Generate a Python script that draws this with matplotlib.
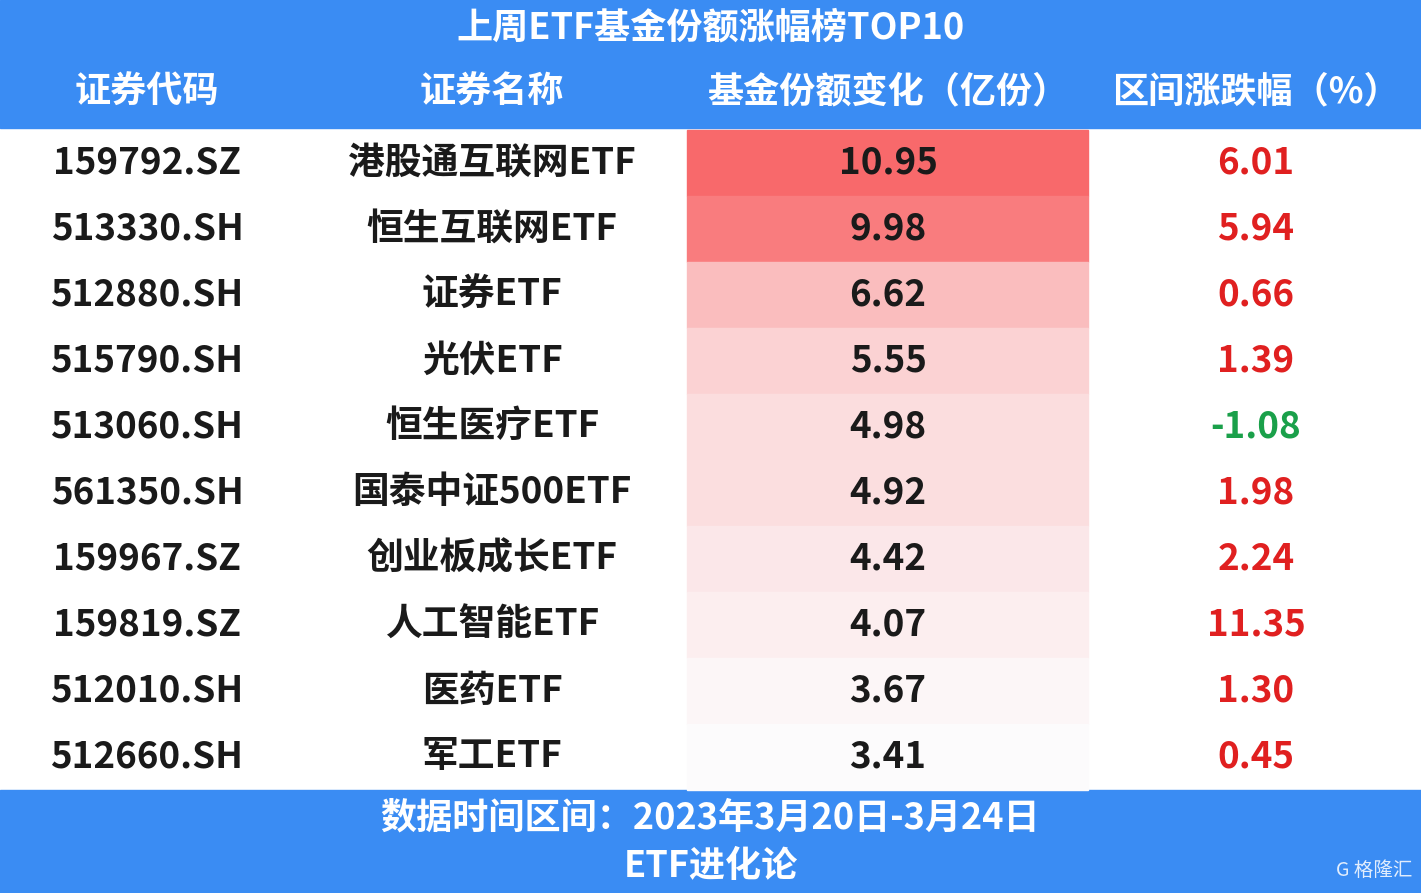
import matplotlib.pyplot as plt
import numpy as np
from matplotlib.colors import to_rgb

plt.rcParams['font.family'] = ['Noto Sans CJK SC', 'DejaVu Sans']

title = "上周ETF基金份额涨幅榜TOP10"
headers = ["证券代码", "证券名称", "基金份额变化（亿份）", "区间涨跌幅（%）"]
codes = ["159792.SZ", "513330.SH", "512880.SH", "515790.SH", "513060.SH",
         "561350.SH", "159967.SZ", "159819.SZ", "512010.SH", "512660.SH"]
names = ["港股通互联网ETF", "恒生互联网ETF", "证券ETF", "光伏ETF", "恒生医疗ETF",
         "国泰中证500ETF", "创业板成长ETF", "人工智能ETF", "医药ETF", "军工ETF"]
shares = [10.95, 9.98, 6.62, 5.55, 4.98, 4.92, 4.42, 4.07, 3.67, 3.41]
pct = [6.01, 5.94, 0.66, 1.39, -1.08, 1.98, 2.24, 11.35, 1.30, 0.45]
footer1 = "数据时间区间：2023年3月20日-3月24日"
footer2 = "ETF进化论"

W, H = 1421, 893
fig = plt.figure(figsize=(W / 100, H / 100), dpi=100)
ax = fig.add_axes([0, 0, 1, 1])
ax.set_xlim(0, W)
ax.set_ylim(H, 0)
ax.axis('off')

blue = "#3a8cf3"
ax.add_patch(plt.Rectangle((0, 0), W, 128, color=blue))
ax.add_patch(plt.Rectangle((0, 790), W, H - 790, color=blue))

ax.text(W / 2, 28, title, ha='center', va='center', color='white', fontsize=26, fontweight='bold')
col_x = [147, 492, 888, 1256]
for x, h in zip(col_x, headers):
    ax.text(x, 92, h, ha='center', va='center', color='white', fontsize=26, fontweight='bold')

top, rh = 130, 66
hi = np.array(to_rgb("#f8696b"))
lo = np.array(to_rgb("#fcfbfc"))
vmin, vmax = min(shares), max(shares)
for i in range(len(codes)):
    yc = top + rh * (i + 0.5)
    t = (shares[i] - vmin) / (vmax - vmin)
    ax.add_patch(plt.Rectangle((687, top + rh * i), 401, rh, color=lo + (hi - lo) * t))
    ax.text(col_x[0], yc, codes[i], ha='center', va='center', color='#1a1a1a', fontsize=26.5, fontweight='bold')
    ax.text(col_x[1], yc, names[i], ha='center', va='center', color='#1a1a1a', fontsize=26.5, fontweight='bold')
    ax.text(col_x[2], yc, f"{shares[i]:.2f}", ha='center', va='center', color='#1a1a1a', fontsize=26.5, fontweight='bold')
    c = '#e02020' if pct[i] >= 0 else '#1aa04a'
    ax.text(col_x[3], yc, f"{pct[i]:.2f}", ha='center', va='center', color=c, fontsize=26.5, fontweight='bold')

ax.text(W / 2, 818, footer1, ha='center', va='center', color='white', fontsize=26, fontweight='bold')
ax.text(W / 2, 866, footer2, ha='center', va='center', color='white', fontsize=26, fontweight='bold')
ax.text(1412, 870, "G 格隆汇", ha='right', va='center', color='white', fontsize=14, alpha=0.85)

fig.savefig("out.png", dpi=100)
